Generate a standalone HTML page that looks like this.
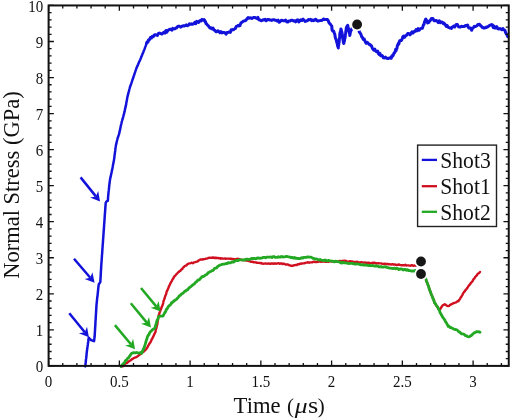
<!DOCTYPE html>
<html><head><meta charset="utf-8"><style>
html,body{margin:0;padding:0;background:#fff;width:520px;height:418px;overflow:hidden}
svg{display:block}
text{font-family:"Liberation Serif","Times New Roman",serif;fill:#111}
</style></head><body>
<svg width="520" height="418" viewBox="0 0 520 418">
<rect width="520" height="418" fill="#fff"/>
<g fill="none" stroke-linejoin="round" stroke-linecap="round">
<polyline points="85.3,366.5 85.4,365.5 85.5,364.4 85.6,363.4 85.7,362.4 85.8,361.3 85.9,360.3 86.0,359.2 86.2,358.2 86.3,357.2 86.4,356.1 86.5,355.1 86.6,354.1 86.7,353.0 86.8,352.0 86.9,351.0 87.1,350.0 87.2,349.0 87.3,347.9 87.5,346.9 87.6,345.9 87.8,344.9 87.9,343.9 88.0,342.9 88.2,341.9 88.3,340.8 88.4,339.8 88.6,338.8 88.7,337.8 89.5,338.5 90.2,339.3 91.0,340.0 92.0,340.4 93.0,340.8 94.0,341.2 94.2,340.1 94.3,339.1 94.4,338.1 94.6,337.0 94.7,336.0 94.7,335.0 94.8,334.0 94.8,333.0 94.9,332.0 95.0,331.0 95.0,330.0 95.1,329.0 95.1,328.0 95.2,327.0 95.3,326.0 95.3,325.0 95.4,324.0 95.4,323.0 95.5,322.0 95.5,321.0 95.6,320.0 95.7,319.0 95.7,318.0 95.8,317.0 95.8,316.0 95.9,315.0 96.0,314.0 96.0,313.0 96.1,312.0 96.1,311.0 96.2,310.0 96.3,309.0 96.3,308.0 96.4,307.0 96.4,306.0 96.5,305.0 96.6,304.0 96.7,303.0 96.8,302.0 96.9,301.0 97.0,300.0 97.1,299.0 97.2,298.0 97.3,297.0 97.5,296.0 97.6,295.0 97.7,294.0 97.8,293.0 97.9,292.0 98.0,291.0 98.1,290.0 98.2,289.0 98.3,288.0 98.4,287.0 98.6,285.6 98.8,284.2 99.5,283.2 100.3,282.2 100.4,281.2 100.4,280.2 100.5,279.2 100.5,278.2 100.6,277.1 100.7,276.1 100.7,275.1 100.8,274.1 100.8,273.1 100.9,272.1 100.9,271.1 101.0,270.1 101.1,269.0 101.1,268.0 101.2,267.0 101.2,266.0 101.3,265.0 101.4,264.0 101.4,263.0 101.5,262.0 101.6,261.0 101.7,260.0 101.7,259.0 101.8,258.0 101.9,257.0 101.9,256.0 102.0,255.0 102.1,254.0 102.2,253.0 102.2,252.0 102.3,251.0 102.4,250.0 102.4,249.0 102.5,248.0 102.6,247.0 102.6,246.0 102.7,245.0 102.8,244.0 102.9,243.0 102.9,242.0 103.0,241.0 103.1,240.0 103.1,239.0 103.2,238.0 103.3,237.0 103.4,236.0 103.4,235.0 103.5,233.9 103.6,232.9 103.6,231.9 103.7,230.9 103.8,229.9 103.9,228.9 103.9,227.9 104.0,226.9 104.1,225.9 104.1,224.9 104.2,223.9 104.3,222.9 104.4,221.9 104.4,220.9 104.5,219.9 104.6,218.9 104.6,217.9 104.7,216.9 104.8,215.9 104.8,214.9 104.9,213.9 105.0,212.9 105.1,211.9 105.1,210.9 105.2,209.9 105.3,208.9 105.3,207.9 105.4,206.9 105.5,205.9 105.6,204.9 105.6,203.9 105.7,202.9 106.2,202.0 106.8,201.1 107.8,200.8 107.9,199.8 108.0,198.8 108.0,197.8 108.1,196.8 108.2,195.8 108.3,194.7 108.4,193.6 108.5,192.6 108.6,191.5 108.8,190.4 108.9,189.3 109.0,188.2 109.1,187.2 109.2,186.1 109.3,185.0 109.4,184.0 109.6,183.0 109.7,182.0 109.8,181.0 110.0,180.0 110.1,179.0 110.3,178.0 110.6,176.9 110.8,175.9 111.0,174.9 111.2,173.9 111.5,172.8 111.7,171.8 111.9,170.8 112.1,169.8 112.3,168.9 112.5,167.9 112.7,166.9 112.8,165.9 113.0,164.9 113.2,163.9 113.4,162.9 113.6,162.0 113.8,161.0 114.0,160.0 114.1,159.0 114.3,158.0 114.4,157.0 114.5,156.0 114.6,155.0 114.8,154.0 114.9,152.9 115.0,151.9 115.2,150.9 115.3,149.9 115.4,148.9 115.5,147.9 115.7,146.9 115.8,145.9 116.0,144.9 116.3,143.9 116.5,142.9 116.7,142.0 116.9,141.0 117.2,140.0 117.4,139.0 117.7,138.0 118.1,137.0 118.4,135.9 118.8,134.9 119.1,133.9 119.3,132.9 119.5,131.9 119.8,130.9 120.0,129.9 120.2,128.9 120.4,128.0 120.6,127.0 120.8,126.0 121.0,125.0 121.3,124.0 121.5,123.0 121.7,122.0 122.0,121.0 122.3,119.9 122.6,118.8 122.9,117.8 123.2,116.8 123.5,115.7 123.8,114.6 124.1,113.6 124.3,112.5 124.6,111.4 124.8,110.4 125.0,109.3 125.3,108.2 125.5,107.2 125.8,106.1 126.0,105.0 126.2,104.0 126.3,103.0 126.5,102.0 126.7,101.0 126.9,100.0 127.1,99.0 127.2,98.0 127.4,97.0 127.7,95.9 128.0,94.9 128.2,93.8 128.5,92.7 128.8,91.7 129.1,90.6 129.3,89.5 129.6,88.5 129.9,87.4 130.2,86.4 130.6,85.5 130.9,84.5 131.2,83.6 131.6,82.6 131.9,81.6 132.2,80.7 132.5,79.7 132.9,78.8 133.2,77.8 133.5,76.8 133.8,75.9 134.2,75.0 134.5,74.0 134.8,73.0 135.1,72.1 135.4,71.1 135.8,70.2 136.1,69.2 136.4,68.3 136.8,67.3 137.2,66.4 137.7,65.4 138.1,64.5 138.5,63.5 138.9,62.5 139.3,61.6 139.8,60.6 140.2,59.7 140.6,58.7 141.0,57.8 141.4,56.8 141.7,55.9 142.1,55.0 142.5,54.0 142.9,53.1 143.3,52.2 143.6,51.3 144.0,50.3 144.4,49.4 144.8,48.4 145.1,47.4 145.5,46.4 145.9,45.4 146.2,44.4 146.6,43.4" stroke="#1212da" stroke-width="2.5"/><polyline points="146.6,43.0 147.2,41.8 147.9,42.2 148.5,40.0 149.1,40.3 149.8,39.1 150.4,37.5 151.4,38.0 152.3,36.3 153.3,36.7 154.2,35.2 155.2,34.7 156.3,35.0 157.3,35.5 158.4,33.4 159.5,33.1 160.7,33.7 161.9,34.1 163.1,32.9 164.1,32.1 165.0,33.1 166.0,30.5 166.9,32.1 167.9,30.4 168.9,29.7 169.8,29.2 170.8,29.3 171.8,30.2 172.7,28.4 173.7,29.1 174.7,28.9 175.6,27.9 176.6,28.0 177.5,26.6 178.5,26.2 179.6,26.3 180.7,27.2 181.8,26.3 182.9,25.8 184.0,26.1 185.1,25.6 186.2,24.9 187.3,25.8 188.4,25.2 189.5,23.8 190.5,24.3 191.6,23.8 192.7,24.3 193.8,23.7 194.8,22.3 195.7,23.7 196.7,21.4 197.7,21.8 198.6,22.4 199.6,20.7 200.8,21.0 202.0,19.4 203.1,20.2 204.1,19.6 204.6,20.2 205.1,21.9 205.5,21.6 206.0,23.5 206.8,24.2 207.5,25.1 208.3,25.7 209.3,27.3 210.2,28.2 211.2,27.8 212.1,28.9 213.1,28.1 214.1,30.1 215.0,30.4 215.9,31.7 216.9,31.7 217.9,30.8 218.8,31.5 219.9,32.6 220.9,31.5 222.0,32.9 223.0,32.5 224.0,32.6 225.0,32.7 226.0,34.2 227.0,32.4 228.0,32.4 229.2,32.0 230.4,32.4 231.2,29.8 232.0,30.1 232.8,29.6 233.6,29.8 234.4,29.0 235.3,28.5 236.3,26.4 237.2,26.1 238.1,25.4 239.1,26.0 240.0,25.6 240.9,22.9 241.9,22.2 242.9,21.6 243.8,20.9 244.9,20.8 245.9,20.4 246.9,18.9 248.0,17.6 249.0,18.3 249.9,17.8 250.9,17.9 251.9,18.5 253.5,17.5 254.6,17.4 255.7,18.0 256.8,18.5 257.9,17.4 258.8,19.8 259.8,19.9 260.8,20.5 261.7,20.7 262.8,19.8 264.0,19.9 265.1,19.3 266.2,20.7 267.4,19.4 268.5,19.5 269.6,19.9 270.6,19.9 271.7,20.4 272.8,19.8 273.8,19.7 274.9,20.2 276.0,20.2 277.0,20.9 278.1,20.2 279.2,22.2 280.2,21.5 281.3,20.3 282.4,20.5 283.4,20.7 284.5,20.7 285.6,20.1 286.6,21.8 287.7,22.1 288.9,20.9 290.0,21.1 291.2,20.2 292.3,20.3 293.5,21.0 294.6,20.7 295.6,21.9 296.7,20.2 297.8,19.8 298.8,21.9 299.9,20.7 301.0,19.7 302.0,20.5 303.1,19.2 304.2,20.3 305.2,21.4 306.3,21.1 307.4,20.6 308.4,19.6 309.5,19.8 310.6,19.3 311.6,20.7 312.7,20.1 313.7,20.7 314.8,19.6 315.8,19.3 316.9,20.7 317.9,21.1 319.0,20.8 320.0,20.6 321.0,20.6 322.0,20.3 323.4,19.0 324.9,19.6 326.8,19.4 327.5,19.5 328.2,20.5 328.7,22.0 329.2,22.9 330.6,24.5 331.6,26.0 331.8,26.1 331.9,28.5 332.1,30.0 332.8,31.1 333.5,30.9 333.8,31.5 334.1,32.4 334.4,33.3 334.8,34.3 335.1,36.2 335.4,37.9 335.7,38.8 336.0,39.1 336.4,40.6 336.7,42.1 337.0,41.5 337.3,44.0 337.6,45.9 338.0,46.8 338.3,48.0 338.4,46.2 338.6,44.4 338.8,44.7 338.9,42.5 339.1,42.5 339.2,41.8 339.3,39.4 339.4,38.3 339.6,38.5 339.7,36.9 339.8,34.5 339.9,33.4 340.1,32.3 340.2,33.1 340.5,31.7 340.9,29.1 341.2,29.6 341.4,31.0 341.6,31.2 341.7,31.5 341.9,33.0 342.1,33.0 342.2,33.7 342.4,37.0 342.6,37.3 342.8,38.0 342.9,40.0 343.1,39.8 343.3,41.9 343.5,42.8 343.6,42.4 343.8,43.5 344.0,42.6 344.2,41.4 344.4,41.2 344.6,39.4 344.8,38.7 345.0,37.0 345.1,37.8 345.3,35.4 345.4,34.6 345.6,33.9 345.7,33.6 345.8,31.3 346.0,31.5 346.1,29.4 346.3,28.4 346.4,27.4 347.7,25.2 348.1,27.5 348.4,28.2 348.8,29.0 349.1,32.1 349.3,31.8 349.6,33.7 349.8,35.5 350.1,33.9 350.4,32.0 350.7,31.2 351.2,30.1 351.7,29.5 352.6,27.0 353.5,27.1 354.4,25.7 355.3,25.1 356.2,25.6 357.1,24.2 357.4,25.3 357.7,26.7 358.0,28.1 358.2,27.9 358.5,29.3 358.8,30.0 359.1,31.0 359.4,32.4 360.0,32.7 360.6,33.9 361.1,34.7 361.7,36.8 362.3,37.2 362.9,38.6 363.6,39.7 364.2,39.0 364.9,40.7 365.6,42.6 366.2,43.3 367.1,42.4 368.1,43.0 369.1,44.5 370.0,44.4 370.8,45.5 371.5,45.9 372.3,48.1 373.0,49.1 373.8,50.2 374.8,49.1 375.8,51.2 376.7,51.8 377.7,51.2 378.5,53.7 379.2,54.5 380.0,53.4 380.7,55.8 381.5,55.2 382.5,56.0 383.4,57.8 384.4,58.0 385.4,57.0 386.4,58.0 387.3,58.6 388.3,58.6 389.3,57.9 390.2,57.8 391.2,58.3 391.9,55.8 392.6,56.2 393.3,55.0 394.0,53.1 394.4,52.9 394.8,52.6 395.2,51.3 395.7,49.3 396.1,50.5 396.5,49.0 396.9,48.4 397.4,45.4 397.9,44.8 398.4,43.3 398.8,44.1 399.3,41.9 399.8,40.6 400.5,40.4 401.2,40.6 402.0,39.4 402.7,37.1 403.6,36.1 404.6,37.3 405.6,35.7 406.5,35.3 407.7,33.6 408.8,33.4 410.0,34.8 411.0,33.4 412.0,31.8 413.0,33.1 414.0,31.6 415.0,31.6 416.1,29.5 417.1,30.9 418.1,28.6 419.1,30.2 420.1,29.0 421.1,28.4 421.8,28.2 422.4,28.3 423.1,25.9 423.5,24.7 423.9,24.7 424.3,23.0 424.6,21.7 425.0,20.9 425.4,19.7 425.8,19.1 426.4,20.2 427.0,21.0 427.6,23.0 428.2,22.7 428.9,22.4 429.6,20.8 430.4,20.4 431.1,18.8 431.8,18.5 432.9,18.5 434.1,20.7 435.2,20.8 436.3,20.5 437.3,21.3 438.3,22.6 439.3,20.8 440.3,22.6 441.3,21.9 442.3,22.2 443.1,23.6 443.9,23.1 444.7,24.0 445.5,25.1 446.3,26.4 447.1,25.4 448.0,27.2 448.9,27.5 449.7,27.9 450.5,28.0 451.4,28.4 452.2,27.1 453.1,26.7 453.9,26.0 454.7,27.0 455.6,25.2 456.4,24.4 457.4,24.5 458.4,26.7 459.4,27.1 460.5,26.9 461.5,26.3 462.5,26.6 463.5,26.4 464.5,26.5 465.6,25.4 466.6,25.8 467.6,25.0 468.4,27.4 469.2,28.2 470.0,27.9 470.8,27.9 471.6,30.3 472.5,28.2 473.4,27.7 474.3,26.3 475.1,26.6 476.0,26.3 476.9,25.8 477.8,24.5 478.7,24.6 479.5,24.2 480.4,25.6 481.2,25.9 482.0,27.4 482.9,27.3 483.7,28.1 484.6,28.1 485.5,27.3 486.4,27.5 487.2,26.8 488.1,26.7 489.0,25.8 489.9,25.3 490.8,25.1 491.6,24.6 492.4,25.1 493.2,27.4 494.0,26.1 494.8,28.1 495.8,28.1 496.8,26.7 497.9,28.8 498.9,29.0 499.9,28.5 500.9,29.2 501.9,29.7 502.9,28.5 503.9,29.9 504.9,30.2 505.4,32.0 505.9,33.0 506.4,34.0 506.9,34.5 507.4,36.2 507.9,36.7" stroke="#1212da" stroke-width="3.0"/>
<polyline points="122.3,366.5 123.2,366.1 124.0,365.4 124.9,364.1 125.7,363.4 126.6,363.2 127.4,362.6 128.3,362.0 129.1,361.2 129.9,360.8 130.7,360.2 131.6,359.6 132.4,358.8 133.5,358.3 134.6,357.7 135.6,357.3 136.7,356.8 137.8,356.2 138.8,355.3 139.9,354.6 141.0,353.8 141.9,352.9 142.8,352.1 143.7,351.6 144.6,350.7 145.3,349.9 146.0,349.4 146.7,348.3 147.4,347.5 147.9,346.3 148.5,345.2 149.0,344.5 149.5,343.4 150.1,342.7 150.6,342.0 151.1,340.9 151.6,339.5 152.1,339.1 152.5,338.0 153.0,337.0 153.5,336.2 153.9,335.1 154.4,334.2 154.9,332.9 155.3,332.3 155.6,331.3 155.8,329.6 156.1,329.0 156.4,327.9 156.7,326.6 156.9,325.6 157.2,324.5 157.4,323.8 157.5,322.5 157.7,321.7 157.8,320.4 158.0,319.8 158.1,318.8 158.3,317.5 158.4,316.5 158.6,315.8 159.0,314.7 159.3,313.5 159.7,312.3 160.1,311.4 160.4,310.6 160.8,309.3 161.2,308.7 161.6,307.1 162.1,306.5 162.5,305.0 162.9,304.3 163.2,302.9 163.4,301.5 163.8,300.4 164.2,299.5 164.6,298.4 164.9,297.1 165.3,296.0 165.7,295.1 166.1,294.2 166.4,292.8 166.8,291.2 167.3,290.5 167.8,289.3 168.3,288.2 168.9,286.5 169.4,285.7 170.0,284.1 170.4,283.6 170.9,282.4 171.4,281.5 171.8,281.1 172.4,279.6 172.9,279.0 173.4,278.3 174.0,277.0 174.7,276.0 175.5,275.5 176.2,274.2 177.0,273.8 177.9,272.6 178.7,272.1 179.6,271.1 180.6,270.6 181.5,269.3 182.2,269.1 182.9,267.7 183.6,267.4 184.5,266.2 185.4,265.7 186.3,265.5 187.2,264.4 188.4,263.7 189.6,263.4 190.7,263.1 191.8,262.7 192.8,263.2 193.9,262.4 195.0,262.2 195.9,261.9 196.8,261.7 197.7,261.3 198.6,260.4 199.5,260.1 200.4,259.5 201.4,259.5 202.4,259.5 203.4,259.3 204.4,259.1 205.5,258.8 206.5,258.6 207.5,258.3 208.5,257.9 209.6,257.7 210.7,257.9 211.7,257.7 212.8,257.5 213.9,257.7 214.9,258.1 215.9,257.6 216.9,258.1 217.9,258.0 218.9,258.2 219.9,258.1 220.9,258.7 221.9,258.3 222.9,258.6 223.9,258.6 224.9,258.4 225.9,258.8 227.0,258.6 228.0,258.6 229.0,258.6 230.0,258.8 231.0,258.7 232.0,259.1 233.0,259.0 234.1,259.3 235.1,259.3 236.1,259.3 237.1,258.8 238.1,259.0 239.1,259.0 240.1,259.5 241.1,259.7 242.1,260.0 243.2,260.1 244.2,260.0 245.2,260.3 246.2,260.6 247.2,260.5 248.2,260.7 249.2,261.2 250.2,261.3 251.2,261.9 252.2,261.8 253.2,262.0 254.2,262.3 255.2,262.4 256.2,262.5 257.2,262.8 258.2,262.9 259.3,262.9 260.3,263.2 261.3,263.0 262.3,263.6 263.3,263.7 264.3,263.6 265.3,263.4 266.4,263.6 267.4,263.7 268.4,263.4 269.4,263.7 270.4,263.8 271.4,263.5 272.4,263.4 273.4,263.8 274.4,263.5 275.5,263.5 276.5,263.7 277.5,263.4 278.5,263.2 279.5,263.8 280.5,263.5 281.5,263.4 282.5,264.0 283.5,263.7 284.5,264.0 285.5,264.5 286.5,264.5 287.6,264.4 288.7,265.0 289.7,265.3 290.8,265.7 291.9,265.8 292.9,265.8 293.9,265.2 294.9,265.1 295.9,264.9 296.8,265.0 297.8,264.2 298.8,264.4 299.8,263.7 300.8,263.8 301.9,263.5 302.9,263.4 304.0,263.4 305.1,263.0 306.1,262.6 307.2,262.5 308.3,262.3 309.4,262.7 310.4,262.4 311.5,262.4 312.6,262.2 313.7,261.6 314.7,262.0 315.8,262.1 316.9,262.0 318.0,261.7 319.1,261.6 320.1,261.6 321.2,261.8 322.3,261.3 323.4,261.5 324.5,261.5 325.5,261.8 326.6,261.7 327.7,261.8 328.8,261.7 329.9,261.4 330.9,261.3 332.0,261.5 333.1,261.3 334.2,261.4 335.3,261.5 336.3,261.6 337.4,261.4 338.5,261.5 339.6,260.9 340.7,261.0 341.7,261.4 342.8,260.8 343.9,260.9 344.9,260.8 346.0,260.9 347.0,261.5 348.0,261.7 349.1,261.5 350.1,261.2 351.1,261.4 352.1,261.5 353.2,261.9 354.2,262.0 355.2,261.9 356.3,262.0 357.3,261.8 358.3,262.2 359.4,262.5 360.4,262.5 361.5,262.1 362.5,262.4 363.5,262.6 364.6,262.4 365.6,262.9 366.6,262.6 367.7,262.9 368.7,262.7 369.8,263.2 370.8,263.1 371.8,263.0 372.9,262.8 373.9,263.0 374.9,262.8 376.0,263.3 377.0,263.5 378.0,263.1 379.0,263.4 380.1,263.4 381.1,263.4 382.1,263.7 383.2,263.9 384.2,263.8 385.2,263.8 386.3,264.2 387.3,263.8 388.4,264.2 389.4,264.2 390.4,264.4 391.5,264.5 392.5,264.2 393.5,264.5 394.6,264.5 395.6,264.7 396.7,265.0 397.7,264.9 398.8,264.5 399.9,264.9 400.9,265.1 402.0,265.3 403.1,265.2 404.2,265.3 405.3,264.8 406.3,265.5 407.4,265.4 408.5,265.4 409.6,265.6 410.7,265.7 411.9,265.2 413.0,265.7 414.1,265.7 415.2,265.4 416.4,265.9 417.5,265.8 418.7,265.6 419.8,266.1 421.0,266.0" stroke="#d01020" stroke-width="2.4"/><polyline points="421.0,274.0 421.8,274.8 422.5,275.6 423.2,276.4 424.0,277.2 424.8,277.8 425.5,278.7 425.9,279.0 426.2,280.3 426.6,281.6 427.0,282.3 427.3,283.4 427.7,283.8 428.0,285.0 428.4,285.9 428.7,287.0 429.0,288.0 429.3,288.6 429.7,289.7 430.0,290.7 430.4,292.1 430.8,293.0 431.1,293.5 431.5,294.9 431.9,295.4 432.3,296.7 432.7,297.3 433.0,298.2 433.4,299.7 433.8,300.2 434.1,301.2 434.5,302.6 435.1,303.5 435.7,304.1 436.2,305.5 436.8,306.1 437.4,307.2 438.0,307.8 438.7,309.3 439.4,310.1 440.0,309.5 440.6,308.6 441.3,307.3 441.9,306.5 442.5,305.5 443.6,304.9 444.8,304.2 445.9,305.0 447.1,305.8 448.2,306.1 449.1,305.9 449.9,305.1 450.8,304.5 451.6,304.3 452.7,303.6 453.9,303.0 455.0,302.7 456.1,302.3 457.3,301.3 458.4,301.4 459.0,299.9 459.6,299.5 460.2,298.6 460.8,297.2 461.4,296.8 461.9,295.6 462.5,294.8 463.0,293.5 463.6,292.6 464.1,291.8 464.8,291.4 465.5,290.0 466.1,289.5 466.8,288.7 467.5,287.8 468.2,286.5 468.9,285.6 469.5,284.8 470.2,284.1 470.9,282.7 471.6,282.3 472.3,281.4 472.9,280.5 473.6,279.0 474.3,278.7 475.0,277.2 475.7,276.5 476.3,275.8 477.0,275.1 477.7,273.8 478.9,273.2 480.0,272.0" stroke="#d01020" stroke-width="2.4"/>
<polyline points="120.9,366.5 121.6,365.4 122.3,364.9 123.1,363.9 123.8,363.3 124.5,362.5 125.2,361.1 125.9,360.2 126.6,360.1 127.4,358.7 128.1,357.8 128.8,357.7 129.4,356.3 130.1,355.7 130.7,354.5 131.3,353.7 132.6,352.8 133.8,352.7 135.2,352.9 136.7,352.5 138.1,352.9 139.5,353.1 140.6,352.5 141.7,353.2 142.2,351.9 142.8,350.6 143.3,349.2 143.8,349.0 144.1,347.5 144.5,346.6 144.8,345.6 145.2,344.3 145.5,343.4 145.8,341.9 146.1,341.3 146.4,340.0 146.7,339.5 147.0,338.5 147.5,336.7 148.0,335.8 148.4,335.0 148.9,334.8 149.4,333.3 149.9,332.5 150.6,331.5 151.4,331.0 152.1,330.1 152.8,329.4 153.9,328.8 154.9,328.1 155.2,327.3 155.5,325.9 155.8,325.0 156.1,323.8 156.4,322.8 156.8,321.5 157.1,320.1 157.5,319.9 157.9,319.0 158.2,317.9 158.6,316.6 160.5,316.2 162.4,316.2 163.1,315.9 163.7,314.6 164.4,313.4 164.9,312.2 165.4,312.0 165.8,311.2 166.3,309.3 167.0,309.1 167.7,307.7 168.4,306.5 169.1,305.7 169.9,305.2 170.8,304.3 171.6,302.7 172.4,302.6 173.2,301.3 174.0,301.3 174.8,300.1 175.6,300.0 176.4,299.4 177.2,298.2 178.0,297.9 178.8,296.5 179.6,295.6 180.4,295.4 181.2,294.2 182.0,293.7 182.8,293.3 183.5,292.8 184.3,291.7 185.1,290.9 185.9,291.1 186.6,289.9 187.4,289.9 188.1,289.2 188.9,288.0 189.7,287.5 190.4,286.9 191.2,286.3 192.0,285.6 192.8,284.9 193.6,284.3 194.4,283.9 195.2,282.8 196.0,282.0 196.8,281.6 197.6,280.4 198.4,279.8 199.3,279.8 200.2,278.6 201.1,277.9 202.0,276.7 203.2,276.5 204.3,276.1 205.5,274.9 206.4,274.7 207.3,273.9 208.2,272.6 209.1,272.3 210.0,271.7 210.9,271.5 211.8,270.7 212.7,270.6 213.5,270.0 214.3,268.7 215.1,268.1 215.9,268.1 216.8,267.7 217.6,266.4 218.4,266.0 219.2,265.5 220.2,265.0 221.3,264.7 222.3,264.4 223.3,264.2 224.3,264.2 225.4,263.7 226.4,263.5 227.4,263.6 228.4,262.6 229.4,262.9 230.5,262.8 231.5,262.1 232.5,261.8 233.5,262.1 234.7,261.1 235.9,260.6 237.1,260.3 238.3,260.5 239.6,259.8 240.8,259.9 242.0,259.8 243.0,260.2 244.1,259.7 245.1,260.0 246.2,259.2 247.2,259.2 248.2,259.4 249.3,259.6 250.3,259.0 251.3,258.7 252.3,258.4 253.4,258.7 254.4,258.3 255.4,258.8 256.4,258.7 257.4,258.0 258.5,258.0 259.5,258.4 260.5,258.1 261.5,258.2 262.5,257.6 263.6,257.3 264.6,257.4 265.6,257.8 266.6,257.2 267.7,257.1 268.7,257.1 269.8,257.1 270.9,257.0 272.0,257.5 273.1,256.7 274.1,256.5 275.2,257.4 276.3,257.3 277.4,257.3 278.5,256.7 279.5,257.2 280.5,257.2 281.5,256.4 282.5,256.9 283.5,257.0 284.5,256.8 285.5,256.6 286.5,256.4 287.7,256.7 288.8,256.9 290.0,257.1 291.1,257.7 292.2,257.4 293.2,258.1 294.3,257.4 295.4,258.3 296.5,258.2 297.6,258.5 298.6,258.5 299.7,258.6 300.8,258.4 301.8,257.6 302.8,258.1 303.8,257.4 304.8,257.3 305.8,257.5 306.8,257.1 307.8,256.8 308.8,257.1 309.8,257.1 310.8,257.2 311.8,257.5 312.9,258.4 313.9,258.4 314.9,259.0 315.9,258.9 316.9,259.1 317.9,259.6 319.0,260.0 320.0,259.4 321.1,260.2 322.1,260.4 323.1,260.4 324.2,260.6 325.2,259.9 326.2,260.6 327.3,261.0 328.3,260.3 329.4,260.6 330.4,260.8 331.4,261.2 332.5,261.2 333.5,261.4 334.6,261.9 335.6,261.2 336.6,261.4 337.7,261.6 338.7,261.8 339.7,261.9 340.8,262.9 341.8,263.0 342.9,262.3 343.9,262.9 344.9,262.8 346.0,262.9 347.0,263.1 348.0,263.4 349.1,263.5 350.1,263.4 351.1,263.3 352.1,263.5 353.2,263.4 354.2,264.0 355.2,264.2 356.3,264.0 357.3,263.8 358.3,264.0 359.4,264.3 360.4,264.6 361.5,264.9 362.5,264.6 363.5,265.1 364.6,265.1 365.6,265.0 366.6,265.0 367.7,265.3 368.7,265.6 369.8,265.4 370.8,265.8 371.8,265.7 372.9,265.5 373.9,265.9 374.9,266.2 376.0,265.7 377.0,266.1 378.0,266.2 379.0,266.8 380.1,266.9 381.1,266.5 382.1,267.1 383.2,267.1 384.2,266.7 385.2,267.0 386.3,266.9 387.3,267.7 388.4,267.7 389.4,268.1 390.4,268.2 391.5,268.3 392.5,268.5 393.5,268.5 394.6,268.2 395.6,268.8 396.7,268.4 397.7,268.7 398.8,269.5 399.9,268.9 400.9,269.0 402.0,269.1 403.1,270.0 404.2,269.4 405.3,269.4 406.3,270.3 407.4,269.7 408.5,270.5 409.6,270.5 410.7,270.8 411.9,271.1 413.0,270.8 414.1,271.2 415.2,270.5 416.1,271.7 417.0,271.9 417.9,272.6 418.8,272.4 419.7,273.5 420.6,274.1 421.4,274.0 422.2,275.1 423.1,276.1 423.9,277.2 424.7,277.4 425.5,278.1 425.9,279.1 426.2,280.4 426.6,281.5 427.0,282.1 427.3,283.0 427.7,284.0 428.0,284.9 428.4,286.0 428.7,286.6 429.0,288.0 429.3,289.4 429.7,289.8 430.0,291.1 430.4,291.5 430.8,293.0 431.1,294.0 431.5,294.9 431.9,295.7 432.3,296.6 432.7,297.7 433.0,298.9 433.4,299.1 433.8,300.0 434.1,301.6 434.5,302.7 435.1,303.3 435.7,304.1 436.2,305.4 436.8,305.8 437.4,306.8 438.0,307.7 438.5,309.1 439.0,309.8 439.5,310.6 439.9,312.1 440.4,313.3 440.9,313.6 441.4,315.0 442.0,315.7 442.5,317.1 443.1,317.7 443.7,318.4 444.2,319.3 444.8,320.0 445.4,321.4 445.9,322.2 446.5,323.0 447.1,324.1 447.6,325.0 448.2,326.4 449.1,326.2 450.0,327.5 450.9,327.5 451.8,328.0 452.7,328.4 453.9,329.1 455.0,329.5 456.1,329.7 457.3,330.0 458.1,331.0 459.0,331.9 459.9,332.2 460.7,333.2 461.6,333.9 462.5,333.8 463.4,334.0 464.3,334.5 465.2,335.4 466.4,335.8 467.5,336.5 468.6,336.8 469.8,336.5 470.9,335.7 472.0,335.0 472.8,333.9 473.5,333.5 474.3,332.7 475.4,332.4 476.6,331.5 477.7,331.8 478.9,331.7 480.0,332.3" stroke="#22a822" stroke-width="2.8"/>
</g>
<line x1="69.3" y1="313.2" x2="84.8" y2="332.2" stroke="#1212da" stroke-width="2.5"/><polygon points="88.9,337.3 78.9,333.3 84.8,332.2 87.0,326.7" fill="#1212da"/><line x1="74.0" y1="258.8" x2="90.3" y2="277.8" stroke="#1212da" stroke-width="2.5"/><polygon points="94.6,282.8 84.6,279.1 90.3,277.8 92.4,272.3" fill="#1212da"/><line x1="80.6" y1="177.4" x2="95.9" y2="196.4" stroke="#1212da" stroke-width="2.5"/><polygon points="100.0,201.5 90.1,197.5 95.9,196.4 98.2,190.9" fill="#1212da"/><line x1="114.9" y1="325.1" x2="130.9" y2="344.2" stroke="#22a822" stroke-width="2.5"/><polygon points="135.1,349.2 125.1,345.4 130.9,344.2 133.1,338.7" fill="#22a822"/><line x1="130.8" y1="303.3" x2="146.8" y2="322.6" stroke="#22a822" stroke-width="2.5"/><polygon points="151.0,327.6 141.0,323.7 146.8,322.6 149.0,317.1" fill="#22a822"/><line x1="141.0" y1="288.0" x2="156.4" y2="306.6" stroke="#22a822" stroke-width="2.5"/><polygon points="160.6,311.6 150.6,307.7 156.4,306.6 158.6,301.1" fill="#22a822"/>
<circle cx="357.1" cy="24.5" r="6.6" fill="#fff"/><circle cx="357.1" cy="24.5" r="4.9" fill="#161616"/><circle cx="421" cy="261.5" r="6.6" fill="#fff"/><circle cx="421" cy="261.5" r="4.9" fill="#161616"/><circle cx="421" cy="274" r="6.6" fill="#fff"/><circle cx="421" cy="274" r="4.9" fill="#161616"/>
<path d="M48.60,365.9V360.60M48.60,5.45V10.75M62.75,365.9V362.90M62.75,5.45V8.45M76.90,365.9V362.90M76.90,5.45V8.45M91.05,365.9V362.90M91.05,5.45V8.45M105.20,365.9V362.90M105.20,5.45V8.45M119.35,365.9V360.60M119.35,5.45V10.75M133.50,365.9V362.90M133.50,5.45V8.45M147.65,365.9V362.90M147.65,5.45V8.45M161.80,365.9V362.90M161.80,5.45V8.45M175.95,365.9V362.90M175.95,5.45V8.45M190.10,365.9V360.60M190.10,5.45V10.75M204.25,365.9V362.90M204.25,5.45V8.45M218.40,365.9V362.90M218.40,5.45V8.45M232.55,365.9V362.90M232.55,5.45V8.45M246.70,365.9V362.90M246.70,5.45V8.45M260.85,365.9V360.60M260.85,5.45V10.75M275.00,365.9V362.90M275.00,5.45V8.45M289.15,365.9V362.90M289.15,5.45V8.45M303.30,365.9V362.90M303.30,5.45V8.45M317.45,365.9V362.90M317.45,5.45V8.45M331.60,365.9V360.60M331.60,5.45V10.75M345.75,365.9V362.90M345.75,5.45V8.45M359.90,365.9V362.90M359.90,5.45V8.45M374.05,365.9V362.90M374.05,5.45V8.45M388.20,365.9V362.90M388.20,5.45V8.45M402.35,365.9V360.60M402.35,5.45V10.75M416.50,365.9V362.90M416.50,5.45V8.45M430.65,365.9V362.90M430.65,5.45V8.45M444.80,365.9V362.90M444.80,5.45V8.45M458.95,365.9V362.90M458.95,5.45V8.45M473.10,365.9V360.60M473.10,5.45V10.75M487.25,365.9V362.90M487.25,5.45V8.45M501.40,365.9V362.90M501.40,5.45V8.45M48.6,365.90H53.90M508.75,365.90H503.45M48.6,358.69H51.60M508.75,358.69H505.75M48.6,351.48H51.60M508.75,351.48H505.75M48.6,344.27H51.60M508.75,344.27H505.75M48.6,337.06H51.60M508.75,337.06H505.75M48.6,329.85H53.90M508.75,329.85H503.45M48.6,322.65H51.60M508.75,322.65H505.75M48.6,315.44H51.60M508.75,315.44H505.75M48.6,308.23H51.60M508.75,308.23H505.75M48.6,301.02H51.60M508.75,301.02H505.75M48.6,293.81H53.90M508.75,293.81H503.45M48.6,286.60H51.60M508.75,286.60H505.75M48.6,279.39H51.60M508.75,279.39H505.75M48.6,272.18H51.60M508.75,272.18H505.75M48.6,264.97H51.60M508.75,264.97H505.75M48.6,257.76H53.90M508.75,257.76H503.45M48.6,250.56H51.60M508.75,250.56H505.75M48.6,243.35H51.60M508.75,243.35H505.75M48.6,236.14H51.60M508.75,236.14H505.75M48.6,228.93H51.60M508.75,228.93H505.75M48.6,221.72H53.90M508.75,221.72H503.45M48.6,214.51H51.60M508.75,214.51H505.75M48.6,207.30H51.60M508.75,207.30H505.75M48.6,200.09H51.60M508.75,200.09H505.75M48.6,192.88H51.60M508.75,192.88H505.75M48.6,185.67H53.90M508.75,185.67H503.45M48.6,178.47H51.60M508.75,178.47H505.75M48.6,171.26H51.60M508.75,171.26H505.75M48.6,164.05H51.60M508.75,164.05H505.75M48.6,156.84H51.60M508.75,156.84H505.75M48.6,149.63H53.90M508.75,149.63H503.45M48.6,142.42H51.60M508.75,142.42H505.75M48.6,135.21H51.60M508.75,135.21H505.75M48.6,128.00H51.60M508.75,128.00H505.75M48.6,120.79H51.60M508.75,120.79H505.75M48.6,113.58H53.90M508.75,113.58H503.45M48.6,106.38H51.60M508.75,106.38H505.75M48.6,99.17H51.60M508.75,99.17H505.75M48.6,91.96H51.60M508.75,91.96H505.75M48.6,84.75H51.60M508.75,84.75H505.75M48.6,77.54H53.90M508.75,77.54H503.45M48.6,70.33H51.60M508.75,70.33H505.75M48.6,63.12H51.60M508.75,63.12H505.75M48.6,55.91H51.60M508.75,55.91H505.75M48.6,48.70H51.60M508.75,48.70H505.75M48.6,41.49H53.90M508.75,41.49H503.45M48.6,34.29H51.60M508.75,34.29H505.75M48.6,27.08H51.60M508.75,27.08H505.75M48.6,19.87H51.60M508.75,19.87H505.75M48.6,12.66H51.60M508.75,12.66H505.75M48.6,5.45H53.90M508.75,5.45H503.45" stroke="#111" stroke-width="1.3" fill="none"/>
<rect x="48.6" y="5.45" width="460.15" height="360.45" fill="none" stroke="#111" stroke-width="2"/>
<g font-size="15"><text transform="translate(48.6,386.8) scale(1,1.06)" text-anchor="middle">0</text><text transform="translate(119.3,386.8) scale(1,1.06)" text-anchor="middle">0.5</text><text transform="translate(190.1,386.8) scale(1,1.06)" text-anchor="middle">1</text><text transform="translate(260.9,386.8) scale(1,1.06)" text-anchor="middle">1.5</text><text transform="translate(331.6,386.8) scale(1,1.06)" text-anchor="middle">2</text><text transform="translate(402.4,386.8) scale(1,1.06)" text-anchor="middle">2.5</text><text transform="translate(473.1,386.8) scale(1,1.06)" text-anchor="middle">3</text><text transform="translate(43.2,372.0) scale(1,1.06)" text-anchor="end">0</text><text transform="translate(43.2,336.0) scale(1,1.06)" text-anchor="end">1</text><text transform="translate(43.2,299.9) scale(1,1.06)" text-anchor="end">2</text><text transform="translate(43.2,263.9) scale(1,1.06)" text-anchor="end">3</text><text transform="translate(43.2,227.8) scale(1,1.06)" text-anchor="end">4</text><text transform="translate(43.2,191.8) scale(1,1.06)" text-anchor="end">5</text><text transform="translate(43.2,155.7) scale(1,1.06)" text-anchor="end">6</text><text transform="translate(43.2,119.7) scale(1,1.06)" text-anchor="end">7</text><text transform="translate(43.2,83.6) scale(1,1.06)" text-anchor="end">8</text><text transform="translate(43.2,47.6) scale(1,1.06)" text-anchor="end">9</text><text transform="translate(43.2,11.5) scale(1,1.06)" text-anchor="end">10</text></g>
<g font-size="22"><text transform="translate(233.6,412.8) scale(1.03,1.064)">Time</text>
<text transform="translate(287.0,412.8) scale(0.95,0.95)">(</text>
<text transform="translate(294.8,412.8) scale(1.16,1.0)" font-style="italic">μ</text>
<text transform="translate(308.0,412.8) scale(1.2,1.04)">s</text>
<text transform="translate(317.8,412.8) scale(0.95,0.95)">)</text></g>
<text transform="translate(18.7,185.1) rotate(-90)" font-size="22.5" text-anchor="middle">Normal Stress (GPa)</text>
<rect x="417.6" y="145.1" width="78.90" height="81.40" fill="#fff" stroke="#222" stroke-width="1.4"/>
<line x1="421.8" y1="159.9" x2="437" y2="159.9" stroke="#1212da" stroke-width="2.3"/>
<line x1="421.8" y1="186.2" x2="437" y2="186.2" stroke="#d01020" stroke-width="2.3"/>
<line x1="421.8" y1="211.8" x2="437" y2="211.8" stroke="#22a822" stroke-width="2.3"/>
<g font-size="21.6"><text transform="translate(440.3,168.2) scale(1,1.05)">Shot3</text><text transform="translate(440.3,194.4) scale(1,1.05)">Shot1</text><text transform="translate(440.3,220.2) scale(1,1.05)">Shot2</text></g>
</svg>
</body></html>
